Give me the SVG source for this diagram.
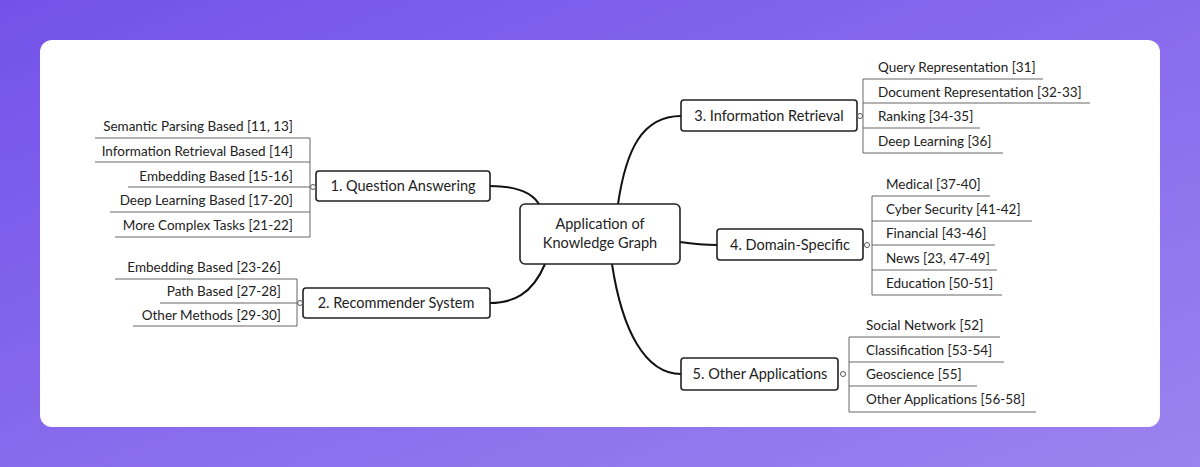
<svg xmlns="http://www.w3.org/2000/svg" width="1200" height="467" viewBox="0 0 1200 467">
<defs>
<linearGradient id="bg" x1="0" y1="0" x2="1" y2="1">
<stop offset="0" stop-color="#7452ea"/><stop offset="1" stop-color="#9c82ef"/>
</linearGradient>
<style>
text{font-family:Lato,"Open Sans",sans-serif;fill:#222}
.leaf{font-size:13.5px}
.box{fill:#fff;stroke:#222;stroke-width:1.6}
.bt{font-size:14.5px}
.ul{stroke:#666;stroke-width:1;fill:none}
.c{fill:none;stroke:#111;stroke-width:2}
.dot{fill:#fff;stroke:#555;stroke-width:1}
</style>
</defs>
<rect width="1200" height="467" fill="url(#bg)"/>
<rect x="40" y="40" width="1120" height="387" rx="12" fill="#fff"/>
<g id="connectors">
<path class="c" d="M540 206 C532 190,512 186,490 186"/>
<path class="c" d="M545 264 C532 295,512 303,490 303"/>
<path class="c" d="M618 204 C626 150,642 116,681 116"/>
<path class="c" d="M680 242 C700 245,705 245,717 245"/>
<path class="c" d="M612 264 C622 330,645 374,681 374"/>
</g>
<g id="center"><rect class="box" x="520" y="204" width="160" height="60" rx="5" stroke-width="1" stroke="#999"/>
<text x="600" y="229" text-anchor="middle" class="bt">Application of</text>
<text x="600" y="248" text-anchor="middle" class="bt">Knowledge Graph</text></g>
<g id="qa"><rect class="box" x="316" y="171" width="174" height="30" rx="3"/>
<text x="403" y="191" text-anchor="middle" class="bt">1. Question Answering</text>
<path class="ul" d="M95 138H310V237H115M95 162H310M128 187H310M110 212H310"/>
<circle class="dot" cx="313" cy="187" r="2.5"/>
<g class="leaf" text-anchor="end">
<text x="293" y="131">Semantic Parsing Based [11, 13]</text>
<text x="293" y="156">Information Retrieval Based [14]</text>
<text x="293" y="181">Embedding Based [15-16]</text>
<text x="293" y="205">Deep Learning Based [17-20]</text>
<text x="293" y="230">More Complex Tasks [21-22]</text></g></g>
<g id="rs"><rect class="box" x="303" y="288" width="187" height="30" rx="3"/>
<text x="396" y="308" text-anchor="middle" class="bt">2. Recommender System</text>
<path class="ul" d="M115 279H297V326H133M160 303H297"/>
<circle class="dot" cx="300" cy="303" r="2.5"/>
<g class="leaf" text-anchor="end">
<text x="281" y="272">Embedding Based [23-26]</text>
<text x="281" y="296">Path Based [27-28]</text>
<text x="281" y="320">Other Methods [29-30]</text></g></g>
<g id="ir"><rect class="box" x="681" y="100" width="176" height="31" rx="3"/>
<text x="769" y="121" text-anchor="middle" class="bt">3. Information Retrieval</text>
<path class="ul" d="M1043 79H863V153H1003M863 103H1090M863 128H980"/>
<circle class="dot" cx="860" cy="116" r="2.5"/>
<g class="leaf">
<text x="878" y="72">Query Representation [31]</text>
<text x="878" y="97">Document Representation [32-33]</text>
<text x="878" y="121">Ranking [34-35]</text>
<text x="878" y="146">Deep Learning [36]</text></g></g>
<g id="ds"><rect class="box" x="717" y="229" width="146" height="31" rx="3"/>
<text x="790" y="250" text-anchor="middle" class="bt">4. Domain-Specific</text>
<path class="ul" d="M990 196H872V295H1002M872 221H1032M872 245H995M872 270H997"/>
<circle class="dot" cx="867" cy="245" r="2.5"/>
<g class="leaf">
<text x="886" y="189">Medical [37-40]</text>
<text x="886" y="214">Cyber Security [41-42]</text>
<text x="886" y="238">Financial [43-46]</text>
<text x="886" y="263">News [23, 47-49]</text>
<text x="886" y="288">Education [50-51]</text></g></g>
<g id="oa"><rect class="box" x="681" y="358" width="157" height="32" rx="3"/>
<text x="760" y="379" text-anchor="middle" class="bt">5. Other Applications</text>
<path class="ul" d="M1000 337H849V412H1036M849 362H1004M849 386H977"/>
<circle class="dot" cx="843" cy="374" r="2.5"/>
<g class="leaf">
<text x="866" y="330">Social Network [52]</text>
<text x="866" y="355">Classification [53-54]</text>
<text x="866" y="379">Geoscience [55]</text>
<text x="866" y="404">Other Applications [56-58]</text></g></g>
</svg>
